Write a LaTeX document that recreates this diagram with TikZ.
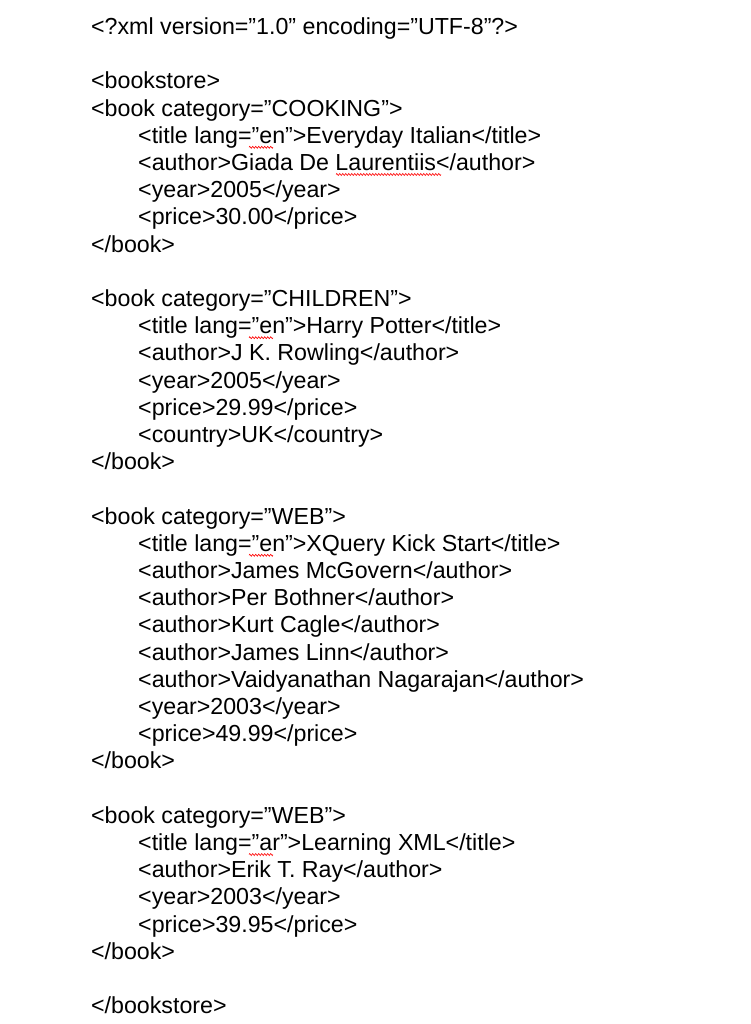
\documentclass[tikz,border=0pt]{standalone}
\usepackage{fontspec}
\setmainfont[Ligatures={}]{Liberation Sans}
\usetikzlibrary{decorations.pathmorphing}
\begin{document}
\begin{tikzpicture}[x=1pt,y=-1pt,
  ln/.style={anchor=base west,inner sep=0pt,font=\fontsize{23.2}{26}\selectfont},
  sq/.style={red,line width=0.6pt,decorate,decoration={zigzag,amplitude=1pt,segment length=3pt}}]
\useasboundingbox[fill=white] (0,0) rectangle (751,1024);
\def\L#1#2#3{\node[ln] (n#1) at (#2,{34.5+27.2*#1}) {#3};}
\L{0}{91}{<?xml version="1.0" encoding="UTF-8"?>}
\L{2}{91}{<bookstore>}
\L{3}{91}{<book category="COOKING">}
\L{4}{138}{<title lang="en">Everyday Italian</title>}
\L{5}{138}{<author>Giada De Laurentiis</author>}
\L{6}{138}{<year>2005</year>}
\L{7}{138}{<price>30.00</price>}
\L{8}{91}{</book>}
\L{10}{91}{<book category="CHILDREN">}
\L{11}{138}{<title lang="en">Harry Potter</title>}
\L{12}{138}{<author>J K. Rowling</author>}
\L{13}{138}{<year>2005</year>}
\L{14}{138}{<price>29.99</price>}
\L{15}{138}{<country>UK</country>}
\L{16}{91}{</book>}
\L{18}{91}{<book category="WEB">}
\L{19}{138}{<title lang="en">XQuery Kick Start</title>}
\L{20}{138}{<author>James McGovern</author>}
\L{21}{138}{<author>Per Bothner</author>}
\L{22}{138}{<author>Kurt Cagle</author>}
\L{23}{138}{<author>James Linn</author>}
\L{24}{138}{<author>Vaidyanathan Nagarajan</author>}
\L{25}{138}{<year>2003</year>}
\L{26}{138}{<price>49.99</price>}
\L{27}{91}{</book>}
\L{29}{91}{<book category="WEB">}
\L{30}{138}{<title lang="ar">Learning XML</title>}
\L{31}{138}{<author>Erik T. Ray</author>}
\L{32}{138}{<year>2003</year>}
\L{33}{138}{<price>39.95</price>}
\L{34}{91}{</book>}
\L{36}{91}{</bookstore>}
\def\S#1#2#3{\draw[sq] (#1,{38.5+27.2*#3}) -- (#2,{38.5+27.2*#3});}
\S{249}{273}{4}
\S{336}{441}{5}
\S{249}{273}{11}
\S{249}{273}{19}
\S{249}{273}{30}
\end{tikzpicture}
\end{document}
